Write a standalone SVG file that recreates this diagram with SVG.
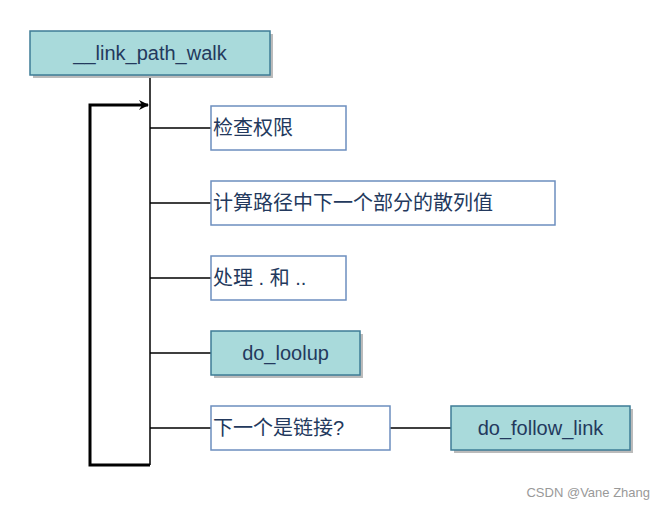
<svg xmlns="http://www.w3.org/2000/svg" width="665" height="510" viewBox="0 0 665 510">
<style>
.b{fill:#fff;stroke:#6c8ebf;stroke-width:1.5}
.f{fill:#a9dadb;stroke:#3e7c96;stroke-width:1.5}
.s{fill:#bbb}
text{font-family:"Liberation Sans","Noto Sans CJK SC",sans-serif;font-size:20px;fill:#23395d;dominant-baseline:central}
.l{stroke:#000;stroke-width:1.5;fill:none}
</style>
<defs><marker id="a" markerWidth="10" markerHeight="10" refX="9" refY="5" orient="auto" markerUnits="userSpaceOnUse"><path d="M0,0 L10,5 L0,10 L3,5 Z" fill="#000"/></marker></defs>
<rect width="665" height="510" fill="#fff"/>
<g id="connectors">
<path class="l" d="M150,75 V465"/>
<path d="M150,465 H90 V105 H148" fill="none" stroke="#000" stroke-width="3" marker-end="url(#a)"/>
<path class="l" d="M150,128 H211 M150,203 H211 M150,278 H211 M150,353 H211 M150,428 H211 M390,428 H451"/>
</g>
<g id="main"><rect class="s" x="33" y="34" width="240" height="44"/><rect class="f" x="30" y="31" width="240" height="44"/><text x="150" y="53" text-anchor="middle">__link_path_walk</text></g>
<g id="n1"><rect class="b" x="211" y="106" width="135" height="44"/><text x="213" y="128">检查权限</text></g>
<g id="n2"><rect class="b" x="211" y="181" width="344" height="44"/><text x="213" y="203">计算路径中下一个部分的散列值</text></g>
<g id="n3"><rect class="b" x="211" y="256" width="135" height="44"/><text x="213" y="278">处理 . 和 ..</text></g>
<g id="n4"><rect class="s" x="214" y="334" width="149" height="44"/><rect class="f" x="211" y="331" width="149" height="44"/><text x="285.5" y="353" text-anchor="middle">do_loolup</text></g>
<g id="n5"><rect class="b" x="211" y="406" width="179" height="44"/><text x="213" y="428">下一个是链接?</text></g>
<g id="n6"><rect class="s" x="454" y="409" width="179" height="44"/><rect class="f" x="451" y="406" width="179" height="44"/><text x="540.5" y="428" text-anchor="middle">do_follow_link</text></g>
<text x="650" y="492" text-anchor="end" style="font-size:13px;fill:#999">CSDN @Vane Zhang</text>
</svg>
